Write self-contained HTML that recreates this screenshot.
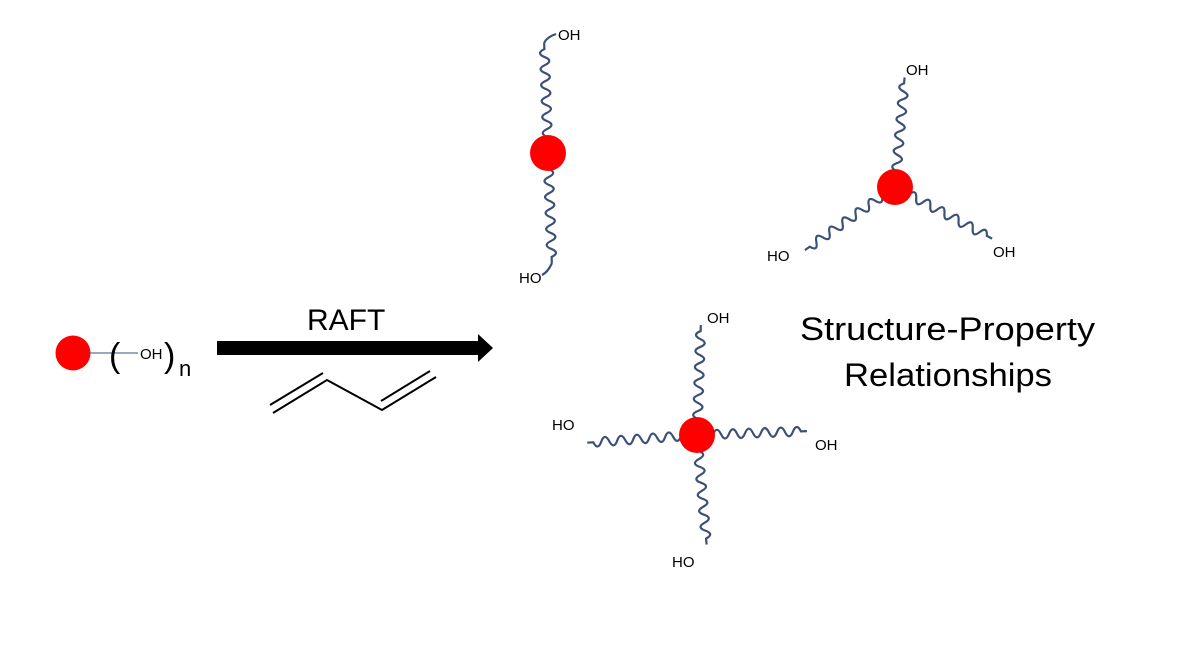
<!DOCTYPE html>
<html><head><meta charset="utf-8"><style>
html,body{margin:0;padding:0;background:#fff;}
svg{display:block;}
text{font-family:"Liberation Sans","DejaVu Sans",sans-serif;fill:#000;}
.w{fill:none;stroke:#3b5078;stroke-width:2.2;}
</style></head><body>
<svg width="1197" height="670" viewBox="0 0 1197 670" xmlns="http://www.w3.org/2000/svg">
<defs>
<path id="a110" class="w" d="M16 0 q4 -9 8 0 t8 0 t8 0 t8 0 t8 0 t8 0 t8 0 t8 0 t8 0 t8 0 t8 0 l6 0"/>
<path id="a100" class="w" d="M16 0 q4 -9 8 0 t8 0 t8 0 t8 0 t8 0 t8 0 t8 0 t8 0 t8 0 t8 0 l4 0"/>
</defs>

<!-- left monomer -->
<circle cx="73" cy="353" r="17.5" fill="#f00"/>
<line x1="90" y1="353" x2="138" y2="353" stroke="#3b5078" stroke-width="1"/>
<text x="109" y="367" font-size="34">(</text>
<text x="140" y="359" font-size="15">OH</text>
<text x="164" y="367" font-size="34">)</text>
<text x="179" y="376" font-size="22">n</text>

<!-- arrow -->
<text x="307" y="330" font-size="30">RAFT</text>
<rect x="217" y="341" width="263" height="14" fill="#000"/>
<polygon points="478,334 493,348 478,362" fill="#000"/>

<!-- butadiene -->
<g stroke="#000" stroke-width="2" fill="none">
<polyline points="273,413 327,380 382,410 436,377"/>
<line x1="270" y1="405" x2="323" y2="373"/>
<line x1="381" y1="401" x2="430" y2="371"/>
</g>

<!-- linear polymer -->
<g transform="translate(548,153)">
<g transform="rotate(-92)"><use href="#a110"/></g>
<g transform="rotate(88)"><use href="#a110"/></g>
</g>
<path class="w" d="M544 43 q3 -6 12 -9"/>
<path class="w" d="M552 263 q-4 9 -10 12"/>
<circle cx="548" cy="153" r="18" fill="#f00"/>
<text x="558" y="40" font-size="15">OH</text>
<text x="519" y="283" font-size="15">HO</text>

<!-- 3-arm star -->
<g transform="translate(895,187)">
<g transform="rotate(-85)"><use href="#a110"/></g>
<g transform="rotate(145)"><use href="#a110"/></g>
<g transform="rotate(28)"><use href="#a110"/></g>
</g>
<circle cx="895" cy="187" r="18" fill="#f00"/>
<text x="906" y="75" font-size="15">OH</text>
<text x="767" y="261" font-size="15">HO</text>
<text x="993" y="257" font-size="15">OH</text>

<!-- 4-arm star -->
<g transform="translate(697,435)">
<g transform="rotate(-88)"><use href="#a110"/></g>
<g transform="rotate(176)"><use href="#a110"/></g>
<g transform="rotate(-2)"><use href="#a110"/></g>
<g transform="rotate(85)"><use href="#a110"/></g>
</g>
<circle cx="697" cy="435" r="18" fill="#f00"/>
<text x="707" y="323" font-size="15">OH</text>
<text x="552" y="430" font-size="15">HO</text>
<text x="815" y="450" font-size="15">OH</text>
<text x="672" y="567" font-size="15">HO</text>

<!-- label -->
<text x="800" y="340" font-size="32" textLength="295" lengthAdjust="spacingAndGlyphs">Structure-Property</text>
<text x="844" y="386" font-size="32" textLength="208" lengthAdjust="spacingAndGlyphs">Relationships</text>
</svg>
</body></html>
